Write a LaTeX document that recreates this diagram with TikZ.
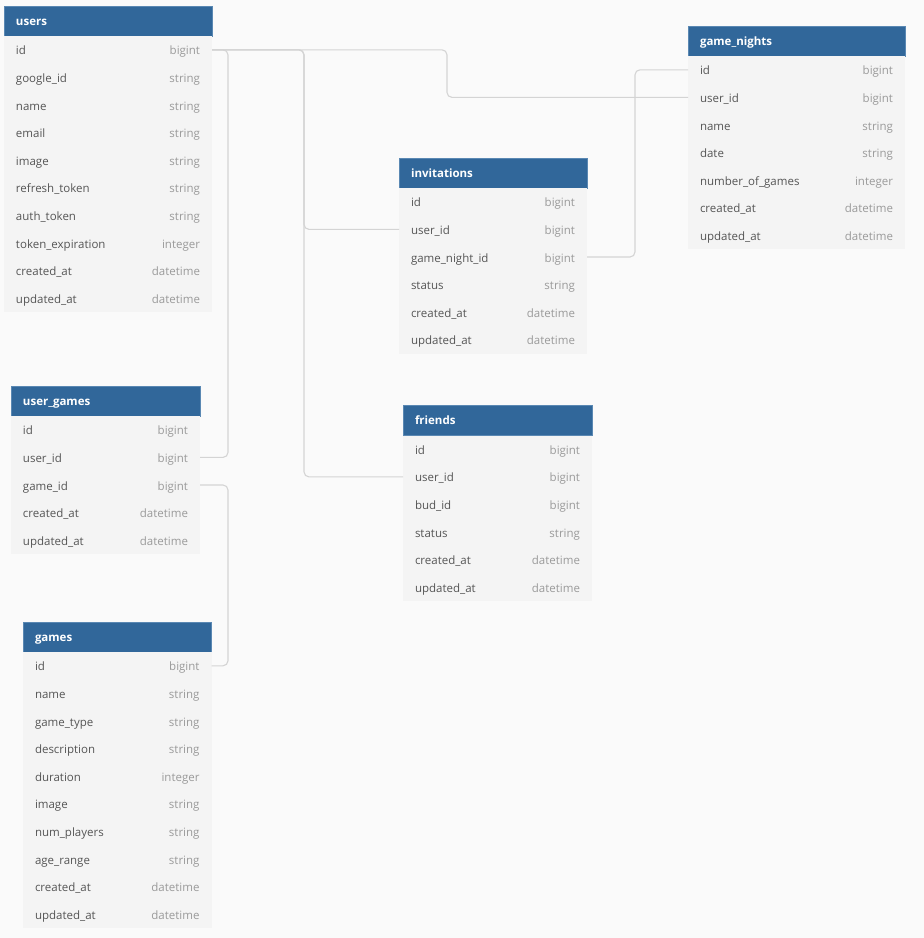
\documentclass[tikz,border=0pt]{standalone}
\usepackage{fontspec}
\setmainfont{Open Sans}
\usepackage{tikz}
\usetikzlibrary{positioning}
\definecolor{headblue}{HTML}{31679A}
\definecolor{headline}{HTML}{5A88B3}
\definecolor{rowfill}{HTML}{F4F4F4}
\definecolor{pagebg}{HTML}{FAFAFA}
\definecolor{fieldtext}{HTML}{555555}
\definecolor{typetext}{HTML}{9A9A9A}
\definecolor{linkgray}{HTML}{D4D4D4}

\begin{document}
\begin{tikzpicture}[x=1pt, y=-1pt,
	head/.style={fill=headblue, draw=headline, line width=0.6pt, text=white, font=\fontsize{11.5}{14}\selectfont\bfseries, inner xsep=12pt, inner ysep=0pt, minimum height=30pt, align=left, anchor=north west, outer sep=0pt, text height=9.5pt, text depth=1.5pt},
	field/.style={fill=rowfill, text=fieldtext, font=\fontsize{11.5}{14}\selectfont, inner xsep=12pt, inner ysep=0pt, minimum height=27.6pt, align=left, outer sep=0pt, text height=10.5pt, text depth=0.5pt, below=0pt of #1},
	link/.style={draw=linkgray, line width=1.1pt, rounded corners=5pt}]
		\fill[pagebg] (0,0) rectangle (924,938);
		\useasboundingbox (0,0) rectangle (924,938);
		% users
		\node[head, text width=184pt] (users-0) at (4,6) {users};
		\foreach \f/\t [count=\i] in {id/bigint, google\_id/string, name/string, email/string, image/string, refresh\_token/string, auth\_token/string, token\_expiration/integer, created\_at/datetime, updated\_at/datetime}
			{\pgfmathtruncatemacro\j{\i-1}
			\node[field=users-\j, text width=184pt] (users-\i) {\f\hfill\textcolor{typetext}{\t}};}
		% game_nights
		\node[head, text width=193pt] (gamenights-0) at (688,26) {game\_nights};
		\foreach \f/\t [count=\i] in {id/bigint, user\_id/bigint, name/string, date/string, number\_of\_games/integer, created\_at/datetime, updated\_at/datetime}
			{\pgfmathtruncatemacro\j{\i-1}
			\node[field=gamenights-\j, text width=193pt] (gamenights-\i) {\f\hfill\textcolor{typetext}{\t}};}
		% invitations
		\node[head, text width=164pt] (invitations-0) at (399,158) {invitations};
		\foreach \f/\t [count=\i] in {id/bigint, user\_id/bigint, game\_night\_id/bigint, status/string, created\_at/datetime, updated\_at/datetime}
			{\pgfmathtruncatemacro\j{\i-1}
			\node[field=invitations-\j, text width=164pt] (invitations-\i) {\f\hfill\textcolor{typetext}{\t}};}
		% user_games
		\node[head, text width=165pt] (usergames-0) at (11,386) {user\_games};
		\foreach \f/\t [count=\i] in {id/bigint, user\_id/bigint, game\_id/bigint, created\_at/datetime, updated\_at/datetime}
			{\pgfmathtruncatemacro\j{\i-1}
			\node[field=usergames-\j, text width=165pt] (usergames-\i) {\f\hfill\textcolor{typetext}{\t}};}
		% friends
		\node[head, text width=165pt] (friends-0) at (403,405.5) {friends};
		\foreach \f/\t [count=\i] in {id/bigint, user\_id/bigint, bud\_id/bigint, status/string, created\_at/datetime, updated\_at/datetime}
			{\pgfmathtruncatemacro\j{\i-1}
			\node[field=friends-\j, text width=165pt] (friends-\i) {\f\hfill\textcolor{typetext}{\t}};}
		% games
		\node[head, text width=164.5pt] (games-0) at (23,622) {games};
		\foreach \f/\t [count=\i] in {id/bigint, name/string, game\_type/string, description/string, duration/integer, image/string, num\_players/string, age\_range/string, created\_at/datetime, updated\_at/datetime}
			{\pgfmathtruncatemacro\j{\i-1}
			\node[field=games-\j, text width=164.5pt] (games-\i) {\f\hfill\textcolor{typetext}{\t}};}
		% relations
		\draw[link] (users-1.east) -- ++(16,0) |- (usergames-2.east);
		\draw[link] (users-1.east) -- ++(92,0) |- (invitations-2.west);
		\draw[link] (users-1.east) -- ++(92,0) |- (friends-2.west);
		\draw[link] (users-1.east) -- ++(235,0) |- (gamenights-2.west);
		\draw[link] (gamenights-1.west) -- ++(-53,0) |- (invitations-3.east);
		\draw[link] (usergames-3.east) -- ++(28,0) |- (games-1.east);
	\end{tikzpicture}
\end{document}
